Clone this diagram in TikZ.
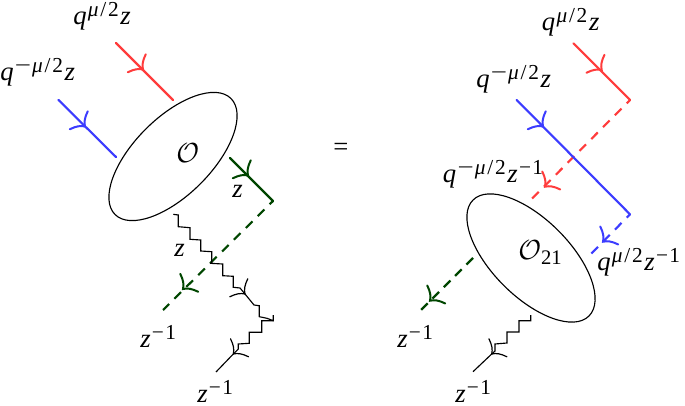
\documentclass[tikz,border=0pt]{standalone}
\usepackage{fontspec}
\setmainfont{Liberation Serif}
\usetikzlibrary{shapes.geometric}
\definecolor{fred}{RGB}{255,60,60}
\definecolor{fblue}{RGB}{60,60,255}
\definecolor{fgreen}{RGB}{0,70,0}
\newcommand{\vq}{\textit{q}}
\newcommand{\vz}{\textit{z}}
\newcommand{\supr}[1]{\kern1pt\raisebox{0.3em}{\fontsize{16}{17}\selectfont #1}\kern1.2pt}
\newcommand{\mudiv}{\textit{μ}\kern1.3pt/\kern1.3pt 2}
\newcommand{\qplus}{\vq\supr{\mudiv}}
\newcommand{\qminus}{\vq\supr{\scalebox{1.35}[1]{−}\kern0.8pt\mudiv}}
\newcommand{\zinv}{\vz\supr{−\kern1pt 1}}
\tikzset{
  x=0.75pt,y=-0.75pt,
  lab/.style={anchor=base west,inner sep=0pt,font=\fontsize{20}{22}\selectfont},
  blob/.style={draw=black,line width=0.85pt,ellipse,minimum width=123pt,minimum height=58pt,inner sep=0pt},
  thick line/.style={line width=1.6pt,line cap=round,line join=miter},
  thin line/.style={line width=0.85pt,line join=miter},
  dashline/.style={line width=1.6pt,line cap=butt,dash pattern=on 7pt off 5.58pt,dash phase=3.5pt},
  barb/.pic={\draw[line cap=round,pic actions] (-8.8,-12.7) .. controls (-6.5,-6) and (-4,-2.5) .. (0,0) .. controls (-4,2.5) and (-6.5,6) .. (-8.8,12.7);},
  colour tip/.style={line width=1.5pt},
  black tip/.style={line width=0.9pt},
}
\begin{document}
\begin{tikzpicture}
\useasboundingbox (0,0) rectangle (685,406);
% left diagram
\node[blob,rotate=45] (L) at (173,156.5) {};
\node[lab] (Lo) at (176,162) {$\mathcal{O}$};
\coordinate (ra) at (116,43); \coordinate (rt) at (143,69.5); \coordinate (rb) at (173,100);
\coordinate (ba) at (58.5,100); \coordinate (bt) at (85,126.5); \coordinate (bb) at (116,157);
\coordinate (ga) at (230,158); \coordinate (gt) at (248,175.5); \coordinate (gc) at (273,201);
\coordinate (gu) at (183,289); \coordinate (gd) at (163,310);
\draw[thick line,fred] (ra) -- (rb);
\pic[draw=fred,colour tip,rotate=-45] at (rt) {barb};
\draw[thick line,fblue] (ba) -- (bb);
\pic[draw=fblue,colour tip,rotate=-45] at (bt) {barb};
\draw[thick line,fgreen] (ga) -- (gc);
\pic[draw=fgreen,colour tip,rotate=-45] at (gt) {barb};
\draw[dashline,fgreen] (gc) -- (gd);
\pic[draw=fgreen,colour tip,rotate=-135] at (gu) {barb};
\coordinate (za) at (173.3,214.3); \coordinate (zt) at (245,294); \coordinate (zc) at (273,320.7);
\coordinate (zu) at (233.3,354); \coordinate (ze) at (216,372);
\draw[thin line] (za) -- (178.3,215) -- (178.3,226.7) -- (190,227.7) -- (190,239.3) -- (200.7,240) -- (200.7,251) -- (211.7,251.7) -- (211.7,263.3) -- (210,263.3) -- (222.7,264) -- (222.7,275.7) -- (233.3,276.3) -- (233.3,287.3) -- (240,288) -- (zt) -- (254,305) -- (259.3,305.7) -- (259.3,316.7) -- (267,318.3) -- (273.3,320.7) -- (273.3,315);
\pic[draw=black,black tip,rotate=-45] at (zt) {barb};
\draw[thin line] (zc) -- (261.7,320.7) -- (261.7,332.3) -- (249.3,332.3) -- (249.3,343.3) -- (238.3,344) -- (238.3,349) -- (zu) -- (ze);
\pic[draw=black,black tip,rotate=-135] at (zu) {barb};
\node[lab] (L1) at (73,25) {\qplus\vz};
\node[lab] (L2) at (0,81) {\qminus\vz};
\node[lab] (L3) at (232,198) {\vz};
\node[lab] (L4) at (174,256) {\vz};
\node[lab] (L5) at (140,347) {\zinv};
\node[lab] (L6) at (197,402.5) {\zinv};
\node[lab] (eq) at (333,156) {=};
% right diagram
\node[blob,rotate=-45] (R) at (531,258) {};
\node[lab] (Ro) at (518,259) {$\mathcal{O}$\raisebox{-0.2em}{\fontsize{15.5}{16}\selectfont 21}};
\coordinate (Ra) at (573.3,43.3); \coordinate (Rt) at (601.7,70); \coordinate (Rc) at (630,100);
\coordinate (Ru) at (545,186.7); \coordinate (Rd) at (531.7,199);
\draw[thick line,fred] (Ra) -- (Rc);
\pic[draw=fred,colour tip,rotate=-45] at (Rt) {barb};
\draw[dashline,fred] (Rc) -- (Rd);
\pic[draw=fred,colour tip,rotate=-135] at (Ru) {barb};
\coordinate (Ba) at (516.7,100); \coordinate (Bt) at (543,126.5); \coordinate (Bc) at (630,214.3);
\coordinate (Bu) at (603,241.7); \coordinate (Bd) at (590,255);
\draw[thick line,fblue] (Ba) -- (Bc);
\pic[draw=fblue,colour tip,rotate=-45] at (Bt) {barb};
\draw[dashline,fblue] (Bc) -- (Bd);
\pic[draw=fblue,colour tip,rotate=-135] at (Bu) {barb};
\coordinate (Ga) at (473,258); \coordinate (Gu) at (430,300.7); \coordinate (Gd) at (421,310);
\draw[dashline,fgreen,dash pattern=on 7pt off 5pt,dash phase=0pt] (Ga) -- (Gd);
\pic[draw=fgreen,colour tip,rotate=-135] at (Gu) {barb};
\coordinate (Za) at (530.7,315); \coordinate (Zu) at (491.7,354); \coordinate (Ze) at (473,371.7);
\draw[thin line] (Za) -- (530.7,320.7) -- (519,320.7) -- (519,332) -- (507,332) -- (507,343) -- (495,344) -- (495,351) -- (Zu) -- (Ze);
\pic[draw=black,black tip,rotate=-135] at (Zu) {barb};
\node[lab] (R1) at (541.7,31) {\qplus\vz};
\node[lab] (R2) at (476,88) {\qminus\vz};
\node[lab] (R3) at (442.7,183) {\qminus\zinv};
\node[lab] (R4) at (597,270) {\qplus\zinv};
\node[lab] (R5) at (397,347.7) {\zinv};
\node[lab] (R6) at (455,402.5) {\zinv};
\end{tikzpicture}
\end{document}
